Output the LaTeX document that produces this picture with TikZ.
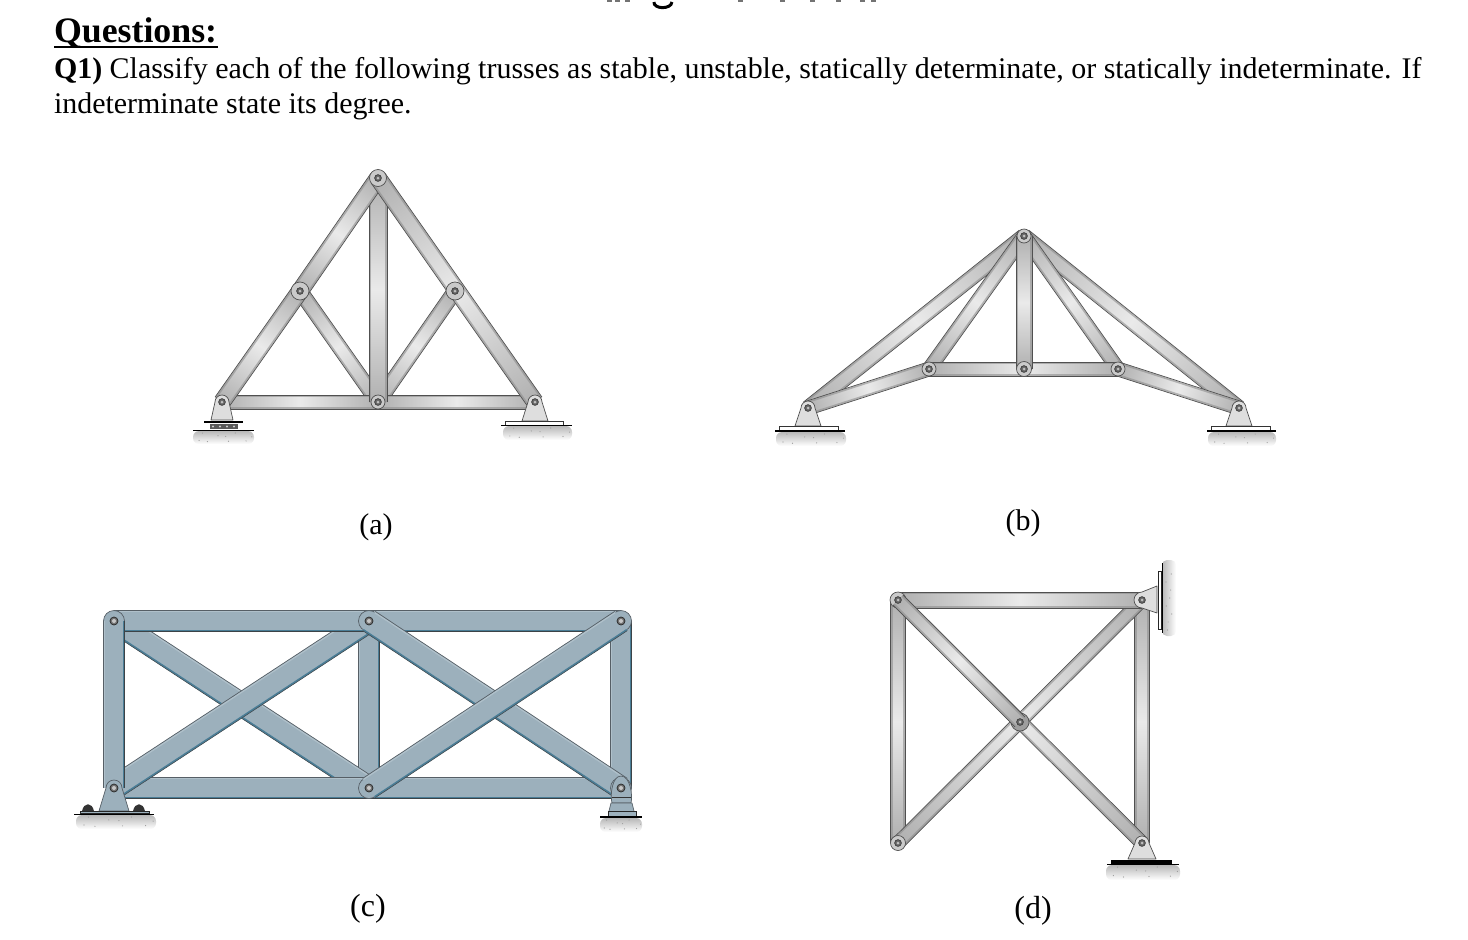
\documentclass[tikz,border=0pt]{standalone}
\usepackage{fontspec}
\setmainfont{Liberation Serif}
\usetikzlibrary{calc}
\definecolor{gEnd}{HTML}{B0B0B0}
\definecolor{gMid}{HTML}{EAEAEA}
\definecolor{gEdge}{HTML}{505050}
\definecolor{gBand}{HTML}{8E8E8E}
\definecolor{gPlate}{HTML}{DEDEDE}
\definecolor{bFill}{HTML}{9CB0BC}
\definecolor{bLight}{HTML}{AFC0CA}
\definecolor{bEdge}{HTML}{565F66}
\definecolor{bDark}{HTML}{4A7D96}
\tikzset{
  qtext/.style={anchor=base west,inner sep=0pt,outer sep=0pt,font=\fontsize{29.95}{32}\selectfont},
  qhead/.style={anchor=base west,inner sep=0pt,outer sep=0pt,font=\fontsize{35.8}{38}\selectfont\bfseries},
  sublabel/.style={inner sep=0pt,outer sep=0pt,anchor=base,font=\fontsize{30}{32}\selectfont},
  sublabelbig/.style={inner sep=0pt,outer sep=0pt,anchor=base,font=\fontsize{32}{34}\selectfont},
  gplate/.style={fill=gPlate,draw=gEdge,line width=.7pt,line join=round},
  bplate/.style={fill=bFill,draw=bEdge,line width=.7pt,line join=round},
}
\newcommand\getmember[2]{%
  \path let \p1=($(#2)-(#1)$),\p2=(#1) in \pgfextra{%
    \pgfmathsetmacro\mAtmp{atan2(\y1,\x1)}\pgfmathsetmacro\mLtmp{veclen(\x1,\y1)}%
    \xdef\MA{\mAtmp}\xdef\ML{\mLtmp}\xdef\MX{\x2}\xdef\MY{\y2}};}
% grey member: a, b, width
\newcommand\gm[3]{%
  \getmember{#1}{#2}%
  \begin{scope}[transform canvas={shift={(\MX,\MY)},rotate=\MA}]
    \shade[left color=gEnd,right color=gEnd,middle color=gMid] (0,-#3/2) rectangle (\ML,#3/2);
    \draw[gBand,line width=1.6pt,opacity=.6] (0,-#3/2+1.3) -- (\ML,-#3/2+1.3) (0,#3/2-1.3) -- (\ML,#3/2-1.3);
    \draw[gEdge,line width=.7pt] (0,-#3/2) -- (\ML,-#3/2) (0,#3/2) -- (\ML,#3/2);
  \end{scope}}
% blue member: a, b, width
\newcommand\bm[3]{%
  \getmember{#1}{#2}%
  \begin{scope}[transform canvas={shift={(\MX,\MY)},rotate=\MA}]
    \fill[bFill] (0,-#3/2) rectangle (\ML,#3/2);
    \draw[bLight,line width=1.4pt] (0,-#3/2+1.2) -- (\ML,-#3/2+1.2);
    \draw[bDark,line width=1.8pt] (0,#3/2-1) -- (\ML,#3/2-1);
    \draw[bEdge,line width=.7pt] (0,-#3/2) -- (\ML,-#3/2);
    \draw[bEdge!70!black,line width=.5pt] (0,#3/2) -- (\ML,#3/2);
  \end{scope}}
\newcommand\gcap[2]{\fill[gEnd!55!gMid,draw=gEdge,line width=.7pt] (#1) circle (#2);}
\newcommand\bcap[2]{\fill[bFill,draw=bEdge,line width=.7pt] (#1) circle (#2);}
\newcommand\pin[1]{\fill[black!60,draw=black!80,line width=.6pt] (#1) circle (3.4pt);\fill[black!25] (#1) circle (1.5pt);}
\newcommand\bpin[1]{\fill[black!55,draw=black!85,line width=.7pt] (#1) circle (4pt);\fill[black!22] (#1) circle (2pt);}
% gusset: style, joint, half base, drop, radius
\newcommand\gusset[5]{\filldraw[#1] ($(#2)+(-#3,#4)$) -- ($(#2)+(-#5,0)$) arc (180:360:#5) -- ($(#2)+(#3,#4)$) -- cycle;}
% ground: x1, x2, y, height
\newcommand\ground[4]{%
  \shade[top color=black!28,bottom color=white,rounded corners=6pt] (#1,#3) rectangle (#2,#3+#4);
  \foreach \k in {1,...,9}{\pgfmathsetmacro\gx{#1+(#2-#1)*(\k-.5+.4*sin(\k*97))/9}\pgfmathsetmacro\gy{#3+2+.35*#4*(1+sin(\k*141))}\fill[black!40] (\gx,\gy) circle (.6pt);}}
\begin{document}
\begin{tikzpicture}[x=1pt,y=-1pt]
\useasboundingbox[fill=white] (0,0) rectangle (1468,940);
% cropped heading remains at the top edge
\begin{scope}
\clip (0,0) rectangle (1468,940);
\draw[black,line width=3pt] (654,2) .. controls (653,9) and (671,10) .. (672,2);
\end{scope}
\foreach \px in {607,615,625,738,780,810,836,860,871}{\fill[black!55] (\px,0) rectangle (\px+5,1.6);}
% texts
\node[qhead] (qh) at (54,42) {Questions:};
\draw[black,line width=2pt] (54,47) -- (217.5,47);
\node[qtext] (q1) at (54,78) {\textbf{Q1)} Classify each of the following trusses as stable, unstable, statically determinate, or statically indeterminate. If};
\node[qtext] (q2) at (54,113) {indeterminate state its degree.};
\node[sublabel] (la) at (376,534) {(a)};
\node[sublabel] (lb) at (1023,530) {(b)};
\node[sublabelbig] (lc) at (368,916) {(c)};
\node[sublabelbig] (ld) at (1033,918) {(d)};
%%%%%%%% (a)
\coordinate (aA) at (378,178);
\coordinate (aL) at (300,291);
\coordinate (aR) at (455,291);
\coordinate (aB) at (378,402);
\coordinate (aS) at (222,402);
\coordinate (aT) at (535,402);
\ground{193}{254}{431}{13}
\ground{503}{572}{426}{14}
\gm{aL}{aB}{15}
\gm{aB}{aR}{15}
\gm{aS}{aB}{14}
\gm{aB}{aT}{14}
\gm{aB}{aA}{18}
\gcap{aB}{7}
\gm{aL}{aA}{17}
\gm{aS}{aL}{17}
\gcap{aL}{9}
\gm{aA}{aT}{17}
\gcap{aR}{9}
\gcap{aA}{8.5}
\gusset{gplate}{aS}{11}{18}{7}
\gusset{gplate}{aT}{13}{19}{7}
\draw[black,line width=1.6pt] (204,422) -- (243,422);
\fill[black!65] (210,424) rectangle (238,429);
\foreach \rx in {213,220,227,234}{\fill[black!20] (\rx,426.5) circle (1.2pt);}
\draw[black,line width=1.4pt] (193,430.5) -- (254,430.5);
\fill[white,draw=black!80,line width=.9pt] (505,421) rectangle (563,425);
\draw[black,line width=1.2pt] (501,425.5) -- (572,425.5);
\foreach \j in {aA,aL,aR,aB,aS,aT}{\pin{\j}}
%%%%%%%% (b)
\coordinate (bA) at (1024,236);
\coordinate (bL) at (929,369);
\coordinate (bR) at (1118,369);
\coordinate (bC) at (1024,369);
\coordinate (bS) at (808,408);
\coordinate (bT) at (1239,408);
\ground{776}{846}{432}{14}
\ground{1208}{1276}{432}{14}
\gm{bS}{bA}{15}
\gm{bA}{bT}{15}
\gm{bL}{bA}{14}
\gm{bA}{bR}{14}
\gm{bS}{bL}{14}
\gm{bR}{bT}{14}
\gm{bL}{bR}{14}
\gm{bC}{bA}{16}
\gcap{bC}{7.5}
\gcap{bL}{7}
\gcap{bR}{7}
\gcap{bA}{7}
\gusset{gplate}{bS}{13}{18}{7}
\gusset{gplate}{bT}{13}{18}{7}
\fill[white,draw=black!80,line width=.9pt] (779,426) rectangle (838,430.5);
\draw[black,line width=1.2pt] (775,431) -- (845,431);
\fill[white,draw=black!80,line width=.9pt] (1211,426) rectangle (1270,430.5);
\draw[black,line width=1.2pt] (1207,431) -- (1276,431);
\foreach \j in {bA,bL,bR,bC,bS,bT}{\pin{\j}}
%%%%%%%% (c)
\coordinate (cTL) at (114,621);
\coordinate (cTM) at (369,621);
\coordinate (cTR) at (621,621);
\coordinate (cBL) at (114,788);
\coordinate (cBM) at (369,788);
\coordinate (cBR) at (621,788);
\ground{76}{156}{815}{14}
\ground{600}{642}{818}{14}
\bm{cTM}{cTR}{21}
\bm{cBM}{cBR}{21}
\bm{cBR}{cTR}{21}
\bm{cBM}{cTM}{21}
\bm{cTL}{cBM}{23}
\bm{cBL}{cBM}{21}
\bm{cBL}{cTM}{23}
\bm{cTL}{cTM}{21}
\bcap{cTL}{10.5}
\bm{cBL}{cTL}{21}
\bcap{cTM}{10.5}
\bm{cTM}{cBR}{23}
\bcap{cBR}{10.5}
\bcap{cBM}{10.5}
\bcap{cTR}{10.5}
\bm{cBM}{cTR}{23}
% supports
\fill[black!80] (82,811) .. controls (84,802) and (92,802) .. (94,811) -- cycle;
\fill[black!80] (133,811) .. controls (135,802) and (143,802) .. (145,811) -- cycle;
\gusset{bplate}{cBL}{15}{23}{8}
\draw[black!85,line width=.7pt,fill=bFill] (80,811) rectangle (149,813.5);
\draw[black,line width=1.4pt] (74,814.5) -- (154,814.5);
\filldraw[bplate] (621,776) .. controls (612,776) and (610,795) .. (612,803) -- (631,803) .. controls (633,795) and (630,776) .. (621,776) -- cycle;
\draw[black!80,line width=.9pt] (612,797) -- (631,797);
\draw[bplate] (609,811) -- (611,803) -- (632,803) -- (634,811);
\draw[black!85,fill=bFill,line width=.7pt] (608,811) rectangle (636,816);
\draw[black,line width=1.4pt] (600,817) -- (642,817);
\foreach \j in {cTL,cTM,cTR,cBL,cBM,cBR}{\bpin{\j}}
%%%%%%%% (d)
\coordinate (dTL) at (898,600);
\coordinate (dTR) at (1142,600);
\coordinate (dBL) at (898,843);
\coordinate (dBR) at (1142,843);
\coordinate (dC) at (1020,722);
\ground{1106}{1180}{865}{15}
\shade[left color=black!28,right color=white,rounded corners=5pt] (1162,560) rectangle (1176,636);
\foreach \k in {1,...,8}{\pgfmathsetmacro\wy{566+8*\k}\pgfmathsetmacro\wx{1166+3*(1+sin(\k*131))}\fill[black!40] (\wx,\wy) circle (.6pt);}
\gm{dBL}{dTL}{15}
\gm{dBR}{dTR}{15}
\gm{dBL}{dTR}{13.5}
\gcap{dBL}{7.5}
\gm{dTL}{dTR}{16}
\gm{dTL}{dBR}{14}
\gcap{dTL}{8}
\fill[gEnd!90!black,draw=gEdge,line width=.7pt] (dC) circle (9pt);
\gm{dTL}{dC}{14}
\gusset{gplate}{dBR}{14}{16}{7}
\filldraw[gplate] (1157,586) -- ($(dTR)+(0,-8)$) arc (270:90:8) -- (1157,613) -- cycle;
\draw[black!85,line width=.9pt,fill=white] (1158,571) rectangle (1161,629);
\draw[black,line width=1.3pt] (1162.5,563) -- (1162.5,633);
\fill[black] (1111,860) rectangle (1172,864);
\draw[black,line width=1.2pt] (1107,864.5) -- (1179,864.5);
\foreach \j in {dTL,dTR,dBL,dBR,dC}{\pin{\j}}
\end{tikzpicture}
\end{document}
